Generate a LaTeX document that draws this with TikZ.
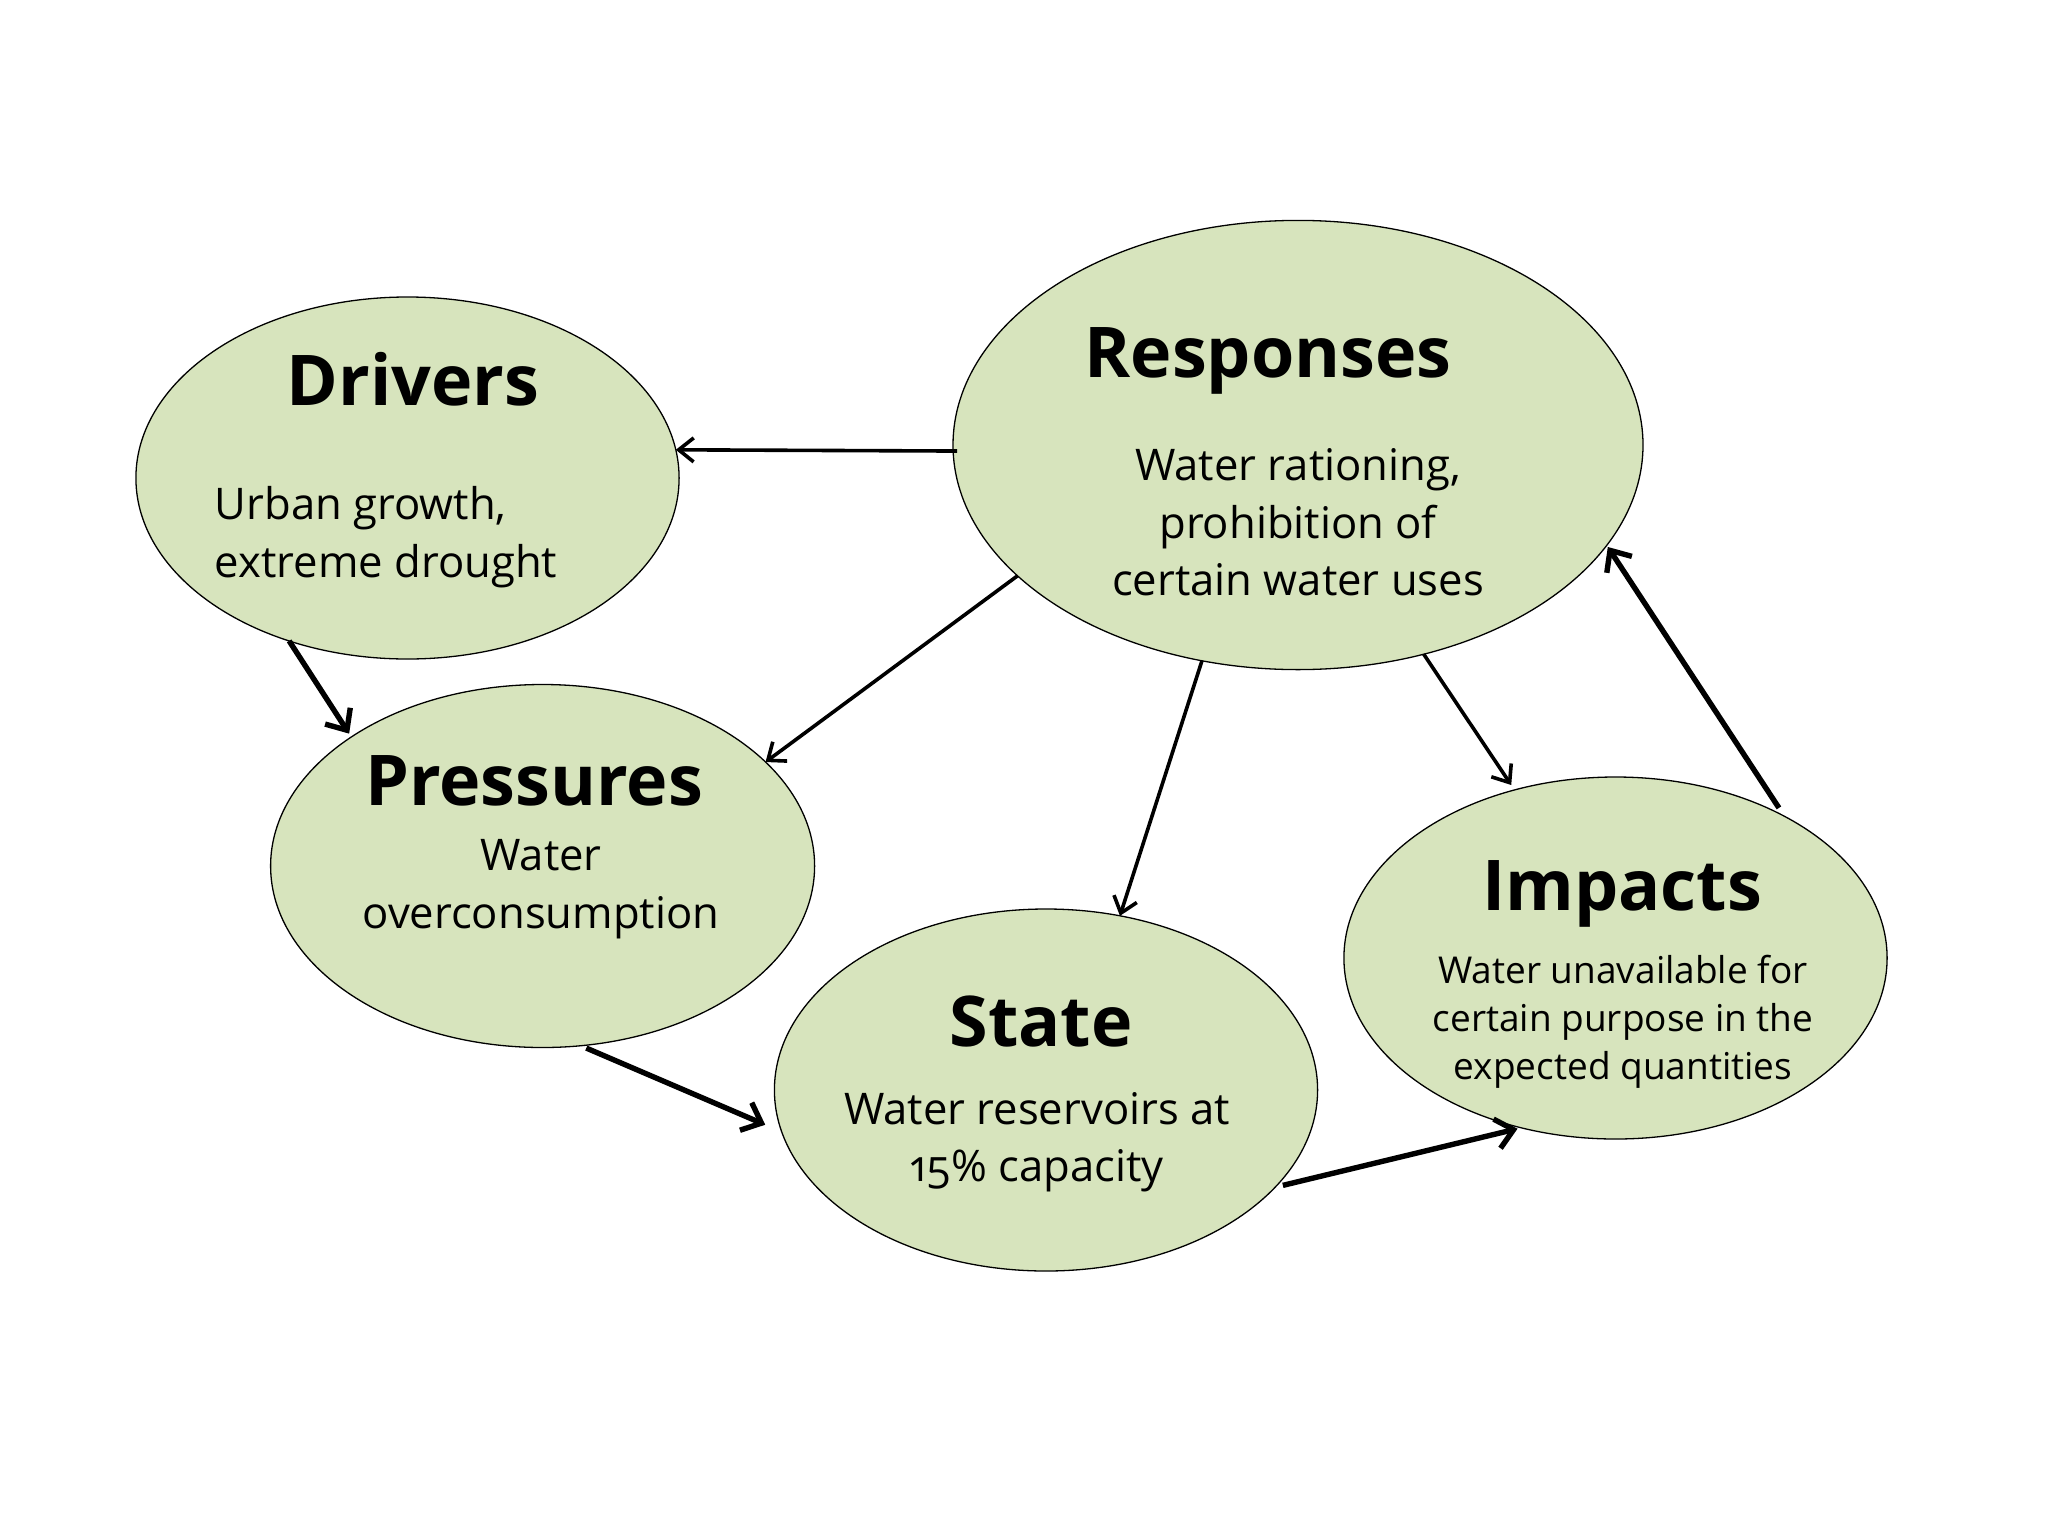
\documentclass[tikz,border=0pt]{standalone}
\usepackage{fontspec}
\setmainfont{Open Sans}[Numbers=OldStyle]
\usetikzlibrary{arrows.meta,shapes.geometric}
\definecolor{bubblefill}{HTML}{D7E4BD}
\begin{document}
\begin{tikzpicture}[x=0.5pt,y=-0.5pt,
  bubble/.style={ellipse, draw=black, line width=0.65pt, fill=bubblefill, inner sep=0pt, outer sep=0pt},
  title/.style={font=\fontsize{35}{42}\selectfont\bfseries, inner sep=0pt},
  body/.style={font=\fontsize{21.8}{28.7}\selectfont, align=center, inner sep=0pt},
  smallbody/.style={font=\fontsize{18.5}{24}\selectfont, align=center, inner sep=0pt},
  thinarrow/.style={line width=1.8pt, -{Straight Barb[length=7.5pt,width=12pt,line width=1.8pt]}},
  thickarrow/.style={line width=2.7pt, -{Straight Barb[length=8.5pt,width=15pt,line width=2.7pt]}}]
\fill[white] (0,0) rectangle (2048,1536);
\useasboundingbox (0,0) rectangle (2048,1536);

% ellipses
\node[bubble, minimum width=271.6pt, minimum height=181pt] (D) at (407.5,478) {};
\node[bubble, minimum width=345pt, minimum height=224.6pt] (R) at (1298,445) {};
\node[bubble, minimum width=272pt, minimum height=181.5pt] (P) at (542.6,866) {};
\node[bubble, minimum width=271.6pt, minimum height=181pt] (S) at (1046,1090) {};
\node[bubble, minimum width=271.6pt, minimum height=181pt] (I) at (1615.5,958) {};

% texts
\node[title] (Dt) at (413,379) {Drivers};
\node[body, align=left] (Db) at (386,537) {Urban growth,\\extreme drought};
\node[title] (Rt) at (1268,361) {Responses};
\node[body] (Rb) at (1298,522.5) {Water rationing,\\prohibition of\\certain water uses};
\node[title] (Pt) at (534,781) {Pressures};
\node[body] (Pb) at (541,889) {Water\\overconsumption};
\node[title] (St) at (1041,1021) {State};
\node[body] (Sb) at (1037,1142) {Water reservoirs at\\15\% capacity};
\node[title] (It) at (1622,894) {Impacts};
\node[smallbody] (Ib) at (1623,1021.5) {Water unavailable for\\certain purpose in the\\expected quantities};

% connectors
\draw[thinarrow, shorten <=-2pt] (R.181) -- (D.6);
\draw[thickarrow, shorten >=2pt] (D.234) -- (P.146);
\draw[thinarrow] (R.205.4) -- (P.25.2);
\draw[thinarrow] (R.246) -- (S.67.8);
\draw[thinarrow, shorten >=3pt] (R.301.9) -- (I.121.9);
\draw[thickarrow, shorten <=5pt, shorten >=1pt] (I.40.8) -- (R.342.8);
\draw[thickarrow, shorten <=3pt, shorten >=9pt] (P.282.2) -- (S.189.6);
\draw[thickarrow, shorten <=4pt, shorten >=2pt] (S.337.6) -- (I.241.6);
\end{tikzpicture}
\end{document}
